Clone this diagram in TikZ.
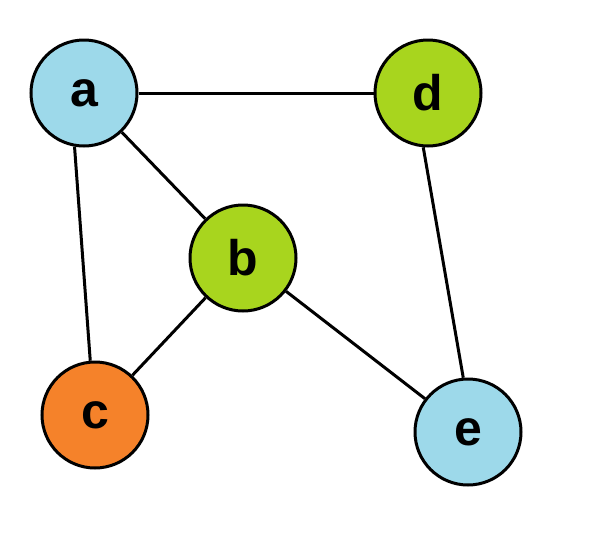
\documentclass[tikz,border=0pt]{standalone}
\usepackage{fontspec}
\setmainfont{Liberation Sans}
\begin{document}
\begin{tikzpicture}[x=1pt,y=-1pt,
  vtx/.style={circle,draw=black,line width=3pt,minimum size=106pt,inner sep=0pt,font=\fontsize{50}{50}\selectfont\bfseries},
  edge/.style={line width=3pt}]
\useasboundingbox (0,0) rectangle (616,536);
\definecolor{lblue}{HTML}{9DD9EA}
\definecolor{lgreen}{HTML}{A8D51E}
\definecolor{orng}{HTML}{F5822A}
\node[vtx,fill=lblue] (a) at (84,93) {a};
\node[vtx,fill=lgreen] (d) at (428,93) {d};
\node[vtx,fill=lgreen] (b) at (243,258) {b};
\node[vtx,fill=orng] (c) at (95,415) {c};
\node[vtx,fill=lblue] (e) at (468,432) {e};
\draw[edge] (a) -- (d);
\draw[edge] (a) -- (b);
\draw[edge] (a.-100) -- (c.95);
\draw[edge] (b) -- (c);
\draw[edge] (b) -- (e);
\draw[edge] (d.-95) -- (e.95);
\end{tikzpicture}
\end{document}
